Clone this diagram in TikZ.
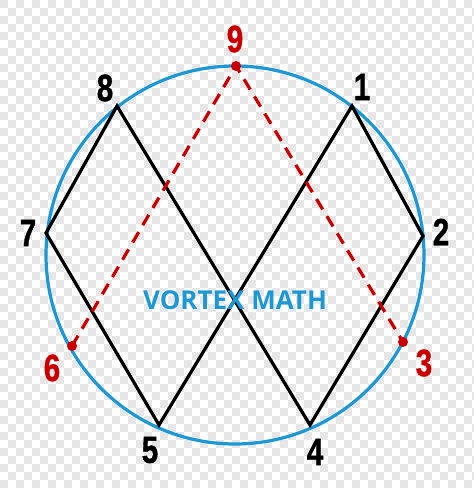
\documentclass[tikz,border=0pt]{standalone}
\usepackage{fontspec}
\setmainfont{Liberation Sans}
\newfontfamily\opensans{Open Sans}
\newfontfamily\numfont{Liberation Sans}[BoldFeatures={FakeBold=1.2}]
\definecolor{vblue}{RGB}{28,152,212}
\definecolor{vred}{RGB}{204,0,0}
\definecolor{chk}{RGB}{230,230,230}
\begin{document}
\begin{tikzpicture}[x=1pt,y=-1pt,
  blk/.style={line width=3.2pt,black,line join=miter},
  reddash/.style={line width=3.2pt,vred,dash pattern=on 12pt off 8pt},
  num/.style={font=\numfont\fontsize{38}{38}\selectfont\bfseries,xscale=0.78,inner sep=0pt},
  dotr/.style={circle,fill=vred,inner sep=0pt,minimum size=10pt}]
\useasboundingbox (0,0) rectangle (474,488);
\fill[white] (0,0) rectangle (474,488);
\foreach \i in {0,...,59}{
  \pgfmathsetmacro\off{mod(\i,2)*8}
  \foreach \j in {0,16,...,480}{
    \fill[chk] (\i*8,\j+\off) rectangle ++(8,8);
  }
}
% circle
\coordinate (c) at (235,255);
\draw[vblue,line width=3.2pt] (c) circle[radius=189];
% vertices
\coordinate (p1) at (352,106);
\coordinate (p2) at (423,236);
\coordinate (p3) at (403,342);
\coordinate (p4) at (310,425);
\coordinate (p5) at (159,425);
\coordinate (p6) at (72,346);
\coordinate (p7) at (46,233);
\coordinate (p8) at (117,106);
\coordinate (p9) at (236,66);
% black star
\draw[blk] (p1) -- (p2) -- (p4) -- (p8) -- (p7) -- (p5) -- cycle;
% red dashed
\draw[reddash] (p6) -- (p9) -- (p3);
\node[dotr] (d9) at (p9) {};
\node[dotr] (d6) at (p6) {};
\node[dotr] (d3) at (p3) {};
% labels
\node[num,vred] (l9) at (235,39) {9};
\node[num] (l1) at (362,87) {1};
\node[num] (l8) at (105,88) {8};
\node[num] (l7) at (28,233) {7};
\node[num] (l2) at (441,232) {2};
\node[num,vred] (l6) at (52,368) {6};
\node[num,vred] (l3) at (424,363) {3};
\node[num] (l5) at (150,450) {5};
\node[num] (l4) at (315,452) {4};
\node[font=\opensans\bfseries\fontsize{26}{26}\selectfont,text=vblue,inner sep=0pt] (title) at (235,300) {VORTEX MATH};
\end{tikzpicture}
\end{document}
